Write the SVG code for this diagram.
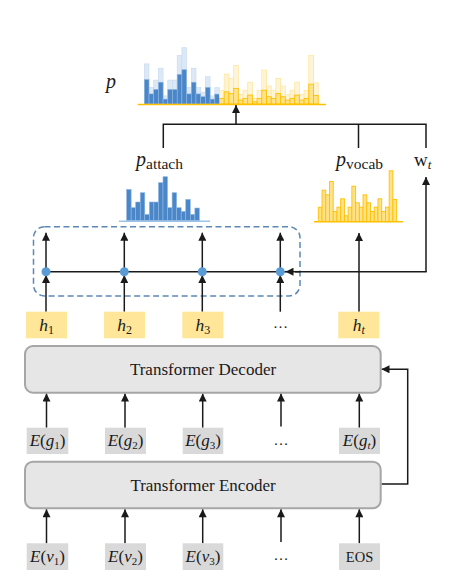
<svg xmlns="http://www.w3.org/2000/svg" width="456" height="584" viewBox="0 0 456 584">
<style>
.ln{stroke:#1a1a1a;stroke-width:1.5;fill:none}
.arr{stroke:#1a1a1a;stroke-width:1.5;fill:none;marker-end:url(#ah)}
.hb{fill:#ffe699}
.eb{fill:#d9d9d9}
.tb{fill:#e7e6e6;stroke:#a6a6a6;stroke-width:2}
.dot{fill:#5b9bd5}
.t{font-family:"Liberation Serif","DejaVu Serif",serif;fill:#1a1a1a}
.i{font-style:italic}
.bd{fill:#4a86c8;stroke:#8fb8e3;stroke-width:0.6}
.bl{fill:#dce8f5;stroke:#c5d9ee;stroke-width:0.6}
.yd{fill:#ffe38a;stroke:#ffc000;stroke-width:0.9}
.yl{fill:#fff5d6;stroke:#ffe7a0;stroke-width:0.8}
</style>
<defs>
<marker id="ah" viewBox="0 0 10 10" refX="10" refY="5" markerWidth="9" markerHeight="8" markerUnits="userSpaceOnUse" orient="auto">
<path d="M0,0 L10,5 L0,10 z" fill="#1a1a1a"/>
</marker>
</defs>

<g id="hist-p">
<g class="bl">
<rect x="144.3" y="63.9" width="4.7" height="40.1"/><rect x="149.0" y="87.4" width="4.7" height="16.6"/><rect x="153.7" y="80.1" width="4.7" height="23.9"/><rect x="158.4" y="68.2" width="4.7" height="35.8"/><rect x="163.1" y="95.9" width="4.7" height="8.1"/><rect x="167.8" y="80.1" width="4.7" height="23.9"/><rect x="172.5" y="80.1" width="4.7" height="23.9"/><rect x="177.2" y="55.4" width="4.7" height="48.6"/><rect x="181.9" y="47.7" width="4.7" height="56.3"/><rect x="186.6" y="87.4" width="4.7" height="16.6"/><rect x="191.3" y="68.2" width="4.7" height="35.8"/><rect x="196.0" y="87.4" width="4.7" height="16.6"/><rect x="200.7" y="92.1" width="4.7" height="11.9"/><rect x="205.4" y="76.7" width="4.7" height="27.3"/><rect x="210.1" y="95.9" width="4.7" height="8.1"/><rect x="214.8" y="87.7" width="4.7" height="16.3"/>
</g>
<g class="bd">
<rect x="144.3" y="79.6" width="4.7" height="24.4"/><rect x="149.0" y="93.9" width="4.7" height="10.1"/><rect x="153.7" y="89.4" width="4.7" height="14.6"/><rect x="158.4" y="82.2" width="4.7" height="21.8"/><rect x="163.1" y="99.1" width="4.7" height="4.9"/><rect x="167.8" y="89.4" width="4.7" height="14.6"/><rect x="172.5" y="89.4" width="4.7" height="14.6"/><rect x="177.2" y="74.4" width="4.7" height="29.6"/><rect x="181.9" y="69.7" width="4.7" height="34.3"/><rect x="186.6" y="93.9" width="4.7" height="10.1"/><rect x="191.3" y="82.2" width="4.7" height="21.8"/><rect x="196.0" y="93.9" width="4.7" height="10.1"/><rect x="200.7" y="96.7" width="4.7" height="7.3"/><rect x="205.4" y="87.4" width="4.7" height="16.6"/><rect x="210.1" y="99.1" width="4.7" height="4.9"/><rect x="214.8" y="94.1" width="4.7" height="9.9"/>
</g>
<g class="yl">
<rect x="219.5" y="90.3" width="4.7" height="13.7"/><rect x="224.2" y="74.0" width="4.7" height="30.0"/><rect x="228.9" y="78.4" width="4.7" height="25.6"/><rect x="233.6" y="65.6" width="4.7" height="38.4"/><rect x="238.3" y="94.4" width="4.7" height="9.6"/><rect x="243.0" y="90.3" width="4.7" height="13.7"/><rect x="247.7" y="82.2" width="4.7" height="21.8"/><rect x="252.4" y="98.5" width="4.7" height="5.5"/><rect x="257.1" y="90.3" width="4.7" height="13.7"/><rect x="261.8" y="70.1" width="4.7" height="33.9"/><rect x="266.5" y="86.0" width="4.7" height="18.0"/><rect x="271.2" y="90.3" width="4.7" height="13.7"/><rect x="275.9" y="78.4" width="4.7" height="25.6"/><rect x="280.6" y="86.0" width="4.7" height="18.0"/><rect x="285.3" y="94.4" width="4.7" height="9.6"/><rect x="290.0" y="90.3" width="4.7" height="13.7"/><rect x="294.7" y="82.2" width="4.7" height="21.8"/><rect x="299.4" y="94.4" width="4.7" height="9.6"/><rect x="304.1" y="90.3" width="4.7" height="13.7"/><rect x="308.8" y="55.3" width="4.7" height="48.7"/><rect x="313.5" y="82.9" width="4.7" height="21.1"/>
</g>
<g class="yd">
<rect x="219.5" y="98.4" width="4.7" height="5.6"/><rect x="224.2" y="91.8" width="4.7" height="12.2"/><rect x="228.9" y="93.6" width="4.7" height="10.4"/><rect x="233.6" y="88.4" width="4.7" height="15.6"/><rect x="238.3" y="100.1" width="4.7" height="3.9"/><rect x="243.0" y="98.4" width="4.7" height="5.6"/><rect x="247.7" y="95.1" width="4.7" height="8.9"/><rect x="252.4" y="101.8" width="4.7" height="2.2"/><rect x="257.1" y="98.4" width="4.7" height="5.6"/><rect x="261.8" y="90.2" width="4.7" height="13.8"/><rect x="266.5" y="96.7" width="4.7" height="7.3"/><rect x="271.2" y="98.4" width="4.7" height="5.6"/><rect x="275.9" y="93.6" width="4.7" height="10.4"/><rect x="280.6" y="96.7" width="4.7" height="7.3"/><rect x="285.3" y="100.1" width="4.7" height="3.9"/><rect x="290.0" y="98.4" width="4.7" height="5.6"/><rect x="294.7" y="95.1" width="4.7" height="8.9"/><rect x="299.4" y="100.1" width="4.7" height="3.9"/><rect x="304.1" y="98.4" width="4.7" height="5.6"/><rect x="308.8" y="84.2" width="4.7" height="19.8"/><rect x="313.5" y="95.4" width="4.7" height="8.6"/>
</g>
<line x1="137.7" y1="104.5" x2="326" y2="104.5" stroke="#ffc000" stroke-width="1.5"/>
<text class="t i" x="106" y="88" font-size="20">p</text>
</g>

<g id="hist-attach">
<g class="bd">
<rect x="126.6" y="189.4" width="4.55" height="31.3"/><rect x="131.15" y="207.7" width="4.55" height="13"/><rect x="135.7" y="202" width="4.55" height="18.7"/><rect x="140.25" y="192.7" width="4.55" height="28"/><rect x="144.8" y="214.4" width="4.55" height="6.3"/><rect x="149.35" y="202" width="4.55" height="18.7"/><rect x="153.9" y="202" width="4.55" height="18.7"/><rect x="158.45" y="182.7" width="4.55" height="38"/><rect x="163.0" y="176.7" width="4.55" height="44"/><rect x="167.55" y="207.7" width="4.55" height="13"/><rect x="172.1" y="192.7" width="4.55" height="28"/><rect x="176.65" y="207.7" width="4.55" height="13"/><rect x="181.2" y="211.4" width="4.55" height="9.3"/><rect x="185.75" y="199.4" width="4.55" height="21.3"/><rect x="190.3" y="214.4" width="4.55" height="6.3"/><rect x="194.85" y="208" width="4.55" height="12.7"/>
</g>
<line x1="119" y1="221.2" x2="210" y2="221.2" stroke="#9dc3e6" stroke-width="1.5"/>
<text class="t" x="136" y="166" font-size="20"><tspan class="i">p</tspan><tspan font-size="15.5" dy="3">attach</tspan></text>
</g>

<g id="hist-vocab">
<g class="yd">
<rect x="318.3" y="207.2" width="3.73" height="14.3"/><rect x="322.03" y="190.2" width="3.73" height="31.3"/><rect x="325.76" y="194.8" width="3.73" height="26.7"/><rect x="329.49" y="181.5" width="3.73" height="40"/><rect x="333.22" y="211.5" width="3.73" height="10"/><rect x="336.95" y="207.2" width="3.73" height="14.3"/><rect x="340.68" y="198.8" width="3.73" height="22.7"/><rect x="344.41" y="215.8" width="3.73" height="5.7"/><rect x="348.14" y="207.2" width="3.73" height="14.3"/><rect x="351.87" y="186.2" width="3.73" height="35.3"/><rect x="355.6" y="202.8" width="3.73" height="18.7"/><rect x="359.33" y="207.2" width="3.73" height="14.3"/><rect x="363.06" y="194.8" width="3.73" height="26.7"/><rect x="366.79" y="202.8" width="3.73" height="18.7"/><rect x="370.52" y="211.5" width="3.73" height="10"/><rect x="374.25" y="207.2" width="3.73" height="14.3"/><rect x="377.98" y="198.8" width="3.73" height="22.7"/><rect x="381.71" y="211.5" width="3.73" height="10"/><rect x="385.44" y="207.2" width="3.73" height="14.3"/><rect x="389.17" y="170.8" width="3.73" height="50.7"/><rect x="392.9" y="199.5" width="3.73" height="22"/>
</g>
<line x1="314" y1="221.8" x2="403" y2="221.8" stroke="#ffc000" stroke-width="1.5"/>
<text class="t" x="336" y="166" font-size="20"><tspan class="i">p</tspan><tspan font-size="15.5" dy="3">vocab</tspan></text>
</g>

<g id="w-t">
<text class="t" x="414" y="166" font-size="19">w<tspan class="i" font-size="13" dy="3">t</tspan></text>
</g>

<g id="attention-group">
<rect x="33.5" y="226.7" width="266.5" height="69.3" rx="11" fill="none" stroke="#5b88b6" stroke-width="1.5" stroke-dasharray="6 3.5"/>
</g>

<g id="connectors">
<polyline class="ln" points="163.3,148 163.3,124.3 426,124.3 426,148"/>
<line class="ln" x1="358.5" y1="124.3" x2="358.5" y2="148"/>
<line class="arr" x1="236" y1="124.3" x2="236" y2="105"/>
<line class="arr" x1="426" y1="272" x2="426" y2="177"/>
<line class="ln" x1="426.7" y1="271.7" x2="295" y2="271.7"/>
<line class="arr" x1="300" y1="271.7" x2="285.5" y2="271.7"/>
<line class="ln" x1="46" y1="271.7" x2="286" y2="271.7"/>
<line class="arr" x1="46" y1="271.7" x2="46" y2="232.7"/>
<line class="arr" x1="124.3" y1="271.7" x2="124.3" y2="232.7"/>
<line class="arr" x1="202.3" y1="271.7" x2="202.3" y2="232.7"/>
<line class="arr" x1="280.3" y1="271.7" x2="280.3" y2="232.7"/>
<line class="arr" x1="46" y1="311.7" x2="46" y2="275"/>
<line class="arr" x1="124.3" y1="311.7" x2="124.3" y2="275"/>
<line class="arr" x1="202.3" y1="311.7" x2="202.3" y2="275"/>
<line class="arr" x1="280.3" y1="311.7" x2="280.3" y2="275"/>
<line class="arr" x1="359" y1="311.7" x2="359" y2="233"/>
<line class="arr" x1="46.5" y1="427.7" x2="46.5" y2="393.5"/>
<line class="arr" x1="125" y1="427.7" x2="125" y2="393.5"/>
<line class="arr" x1="202.7" y1="427.7" x2="202.7" y2="393.5"/>
<line class="arr" x1="281" y1="426.5" x2="281" y2="393.5"/>
<line class="arr" x1="359.3" y1="427.7" x2="359.3" y2="393.5"/>
<line class="arr" x1="46.5" y1="543.3" x2="46.5" y2="509.2"/>
<line class="arr" x1="125" y1="543.3" x2="125" y2="509.2"/>
<line class="arr" x1="202.7" y1="543.3" x2="202.7" y2="509.2"/>
<line class="arr" x1="281" y1="542" x2="281" y2="509.2"/>
<line class="arr" x1="359.3" y1="543.3" x2="359.3" y2="509.2"/>
<polyline class="arr" points="381.5,484 407.7,484 407.7,369.3 381.5,369.3"/>
</g>

<g id="dots">
<circle class="dot" cx="46" cy="271.7" r="4.5"/>
<circle class="dot" cx="124.3" cy="271.7" r="4.5"/>
<circle class="dot" cx="202.3" cy="271.7" r="4.5"/>
<circle class="dot" cx="280.3" cy="271.7" r="4.5"/>
</g>

<g id="h1"><rect class="hb" x="26" y="311.7" width="41" height="26.6"/><text class="t" x="46.5" y="330.5" font-size="17.5" text-anchor="middle"><tspan class="i">h</tspan><tspan font-size="12" dy="3">1</tspan></text></g>
<g id="h2"><rect class="hb" x="104" y="311.7" width="41" height="26.6"/><text class="t" x="124.5" y="330.5" font-size="17.5" text-anchor="middle"><tspan class="i">h</tspan><tspan font-size="12" dy="3">2</tspan></text></g>
<g id="h3"><rect class="hb" x="182.3" y="311.7" width="41" height="26.6"/><text class="t" x="202.8" y="330.5" font-size="17.5" text-anchor="middle"><tspan class="i">h</tspan><tspan font-size="12" dy="3">3</tspan></text></g>
<g id="h-dots"><text class="t" x="280.5" y="328" font-size="15" text-anchor="middle">…</text></g>
<g id="ht"><rect class="hb" x="338.3" y="311.7" width="41" height="26.6"/><text class="t" x="358.8" y="330.5" font-size="17.5" text-anchor="middle"><tspan class="i">h</tspan><tspan class="i" font-size="12" dy="3">t</tspan></text></g>

<g id="decoder"><rect class="tb" x="25" y="346" width="355.7" height="46.7" rx="8"/><text class="t" x="203" y="375" font-size="17" text-anchor="middle">Transformer Decoder</text></g>

<g id="Eg1"><rect class="eb" x="26.7" y="427.7" width="41.6" height="26.3"/><text class="t" x="47.5" y="446" font-size="17" text-anchor="middle"><tspan class="i">E</tspan>(<tspan class="i">g</tspan><tspan font-size="11" dy="3">1</tspan><tspan dy="-3">)</tspan></text></g>
<g id="Eg2"><rect class="eb" x="105" y="427.7" width="41" height="26.3"/><text class="t" x="125.5" y="446" font-size="17" text-anchor="middle"><tspan class="i">E</tspan>(<tspan class="i">g</tspan><tspan font-size="11" dy="3">2</tspan><tspan dy="-3">)</tspan></text></g>
<g id="Eg3"><rect class="eb" x="182.7" y="427.7" width="40.6" height="26.3"/><text class="t" x="203" y="446" font-size="17" text-anchor="middle"><tspan class="i">E</tspan>(<tspan class="i">g</tspan><tspan font-size="11" dy="3">3</tspan><tspan dy="-3">)</tspan></text></g>
<g id="Eg-dots"><text class="t" x="281" y="444.5" font-size="15" text-anchor="middle">…</text></g>
<g id="Egt"><rect class="eb" x="339" y="427.7" width="41" height="26.3"/><text class="t" x="359.5" y="446" font-size="17" text-anchor="middle"><tspan class="i">E</tspan>(<tspan class="i">g</tspan><tspan class="i" font-size="11" dy="3">t</tspan><tspan dy="-3">)</tspan></text></g>

<g id="encoder"><rect class="tb" x="25" y="461.7" width="355.7" height="46.6" rx="8"/><text class="t" x="203" y="490.7" font-size="17" text-anchor="middle">Transformer Encoder</text></g>

<g id="Ev1"><rect class="eb" x="26.7" y="543.3" width="41.6" height="26.7"/><text class="t" x="47.5" y="561.5" font-size="17" text-anchor="middle"><tspan class="i">E</tspan>(<tspan class="i">v</tspan><tspan font-size="11" dy="3">1</tspan><tspan dy="-3">)</tspan></text></g>
<g id="Ev2"><rect class="eb" x="105" y="543.3" width="41" height="26.7"/><text class="t" x="125.5" y="561.5" font-size="17" text-anchor="middle"><tspan class="i">E</tspan>(<tspan class="i">v</tspan><tspan font-size="11" dy="3">2</tspan><tspan dy="-3">)</tspan></text></g>
<g id="Ev3"><rect class="eb" x="182.7" y="543.3" width="40.6" height="26.7"/><text class="t" x="203" y="561.5" font-size="17" text-anchor="middle"><tspan class="i">E</tspan>(<tspan class="i">v</tspan><tspan font-size="11" dy="3">3</tspan><tspan dy="-3">)</tspan></text></g>
<g id="Ev-dots"><text class="t" x="281" y="560" font-size="15" text-anchor="middle">…</text></g>
<g id="EOS"><rect class="eb" x="339" y="543.3" width="41" height="26.7"/><text class="t" x="359.5" y="561.5" font-size="14.5" text-anchor="middle">EOS</text></g>
</svg>
